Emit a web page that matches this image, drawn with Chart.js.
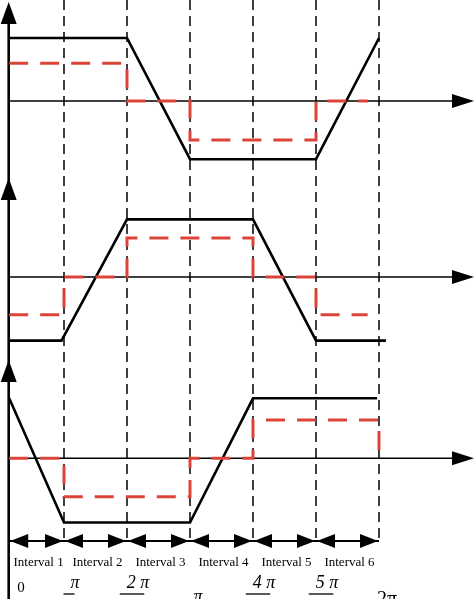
<!DOCTYPE html>
<html>
<head>
<meta charset="utf-8">
<script src="https://cdn.jsdelivr.net/npm/chart.js@4/dist/chart.umd.min.js"></script>
<style>
  html, body { margin: 0; padding: 0; background: #fff; }
  #myChart { display: block; }
</style>
</head>
<body>
<canvas id="myChart" width="474" height="599"></canvas>
<script>
// x in units of pi/3 (dashed lines at 1..6), start = where the vertical axis sits
const xStart = 0.13;
const boundaries = [1, 2, 3, 4, 5, 6];
const intervalNames = ["Interval 1", "Interval 2", "Interval 3", "Interval 4", "Interval 5", "Interval 6"];
const angleTop = ["0", "π", "2 π", "π", "4 π", "5 π", "2π"];

// phase a
const emfAx = [xStart, 2, 3, 5, 6];
const emfAy = [1.05, 1.05, -0.97, -0.97, 1.05];
const curAx = [xStart, 2, 3, 5, 5.82];
const curAy = [0.63, 0, -0.65, 0, 0];

// phase b
const emfBx = [xStart, 0.96, 2, 4, 5, 6.11];
const emfBy = [-1.06, -1.06, 0.96, 0.96, -1.06, -1.06];
const curBx = [xStart, 1, 2, 4, 5, 5.82];
const curBy = [-0.63, 0, 0.65, 0, -0.63, -0.63];

// phase c
const emfCx = [xStart, 1, 3, 4, 5.97];
const emfCy = [1.0, -1.07, -1.07, 1.0, 1.0];
const curCx = [xStart, 1, 3, 4, 6];
const curCy = [0, -0.64, 0, 0.64, 0];

const red = "#dc4439";

function pts(xs, ys) {
    let out = [];
    for (let i = 0; i < xs.length; i++) {
        out.push({ x: xs[i], y: ys[i] });
    }
    return out;
}

function emf(xs, ys, axis) {
    return {
        data: pts(xs, ys), yAxisID: axis, borderColor: "#000", borderWidth: 2.6,
        pointRadius: 0, fill: false, tension: 0, order: 2
    };
}

function cur(xs, ys, axis) {
    return {
        data: pts(xs, ys), yAxisID: axis, borderColor: red, borderWidth: 3,
        borderDash: [19, 12], stepped: "before", pointRadius: 0, fill: false, order: 1
    };
}

function arrow(ctx, x, y, dir, len, half) {
    ctx.beginPath();
    if (dir === "up") {
        ctx.moveTo(x, y); ctx.lineTo(x - half, y + len); ctx.lineTo(x + half, y + len);
    } else if (dir === "right") {
        ctx.moveTo(x, y); ctx.lineTo(x - len, y - half); ctx.lineTo(x - len, y + half);
    } else {
        ctx.moveTo(x, y); ctx.lineTo(x + len, y - half); ctx.lineTo(x + len, y + half);
    }
    ctx.closePath();
    ctx.fill();
}

const axesPlugin = {
    id: "axesPlugin",
    beforeDatasetsDraw(chart) {
        const ctx = chart.ctx;
        const xs = chart.scales.x;
        const x0 = xs.getPixelForValue(xStart);
        const rowY = 541;
        ctx.save();
        ctx.fillStyle = "#000";
        ctx.strokeStyle = "#000";

        // dashed boundaries
        ctx.lineWidth = 1.5;
        ctx.setLineDash([10, 6]);
        boundaries.forEach(b => {
            const px = xs.getPixelForValue(b);
            ctx.beginPath();
            ctx.moveTo(px, 0);
            ctx.lineTo(px, rowY);
            ctx.stroke();
        });
        ctx.setLineDash([]);

        // horizontal axes
        ["ya", "yb", "yc"].forEach(id => {
            const sc = chart.scales[id];
            const py = sc.getPixelForValue(0);
            ctx.lineWidth = 1.6;
            ctx.beginPath();
            ctx.moveTo(x0, py);
            ctx.lineTo(455, py);
            ctx.stroke();
            arrow(ctx, 474, py, "right", 22, 7);
            arrow(ctx, x0 - 0.5, Math.max(sc.top, 2), "up", 22, 8);
        });

        // vertical axis
        ctx.lineWidth = 2.6;
        ctx.beginPath();
        ctx.moveTo(x0 - 0.5, 10);
        ctx.lineTo(x0 - 0.5, 599);
        ctx.stroke();

        // interval arrows
        const marks = [xStart].concat(boundaries);
        ctx.lineWidth = 1.8;
        ctx.beginPath();
        ctx.moveTo(x0, rowY);
        ctx.lineTo(xs.getPixelForValue(6), rowY);
        ctx.stroke();
        for (let i = 0; i < marks.length - 1; i++) {
            const l = xs.getPixelForValue(marks[i]);
            const r = xs.getPixelForValue(marks[i + 1]);
            arrow(ctx, l + 1, rowY, "left", 18, 7);
            arrow(ctx, r - 1, rowY, "right", 18, 7);
        }
        ctx.restore();
    },
    afterDraw(chart) {
        const ctx = chart.ctx;
        const xs = chart.scales.x;
        const marks = [xStart].concat(boundaries);
        ctx.save();
        ctx.fillStyle = "#000";
        ctx.strokeStyle = "#000";

        ctx.font = '13px "Liberation Serif"';
        ctx.textAlign = "center";
        ctx.textBaseline = "middle";
        for (let i = 0; i < intervalNames.length; i++) {
            const c = (xs.getPixelForValue(marks[i]) + xs.getPixelForValue(marks[i + 1])) / 2;
            ctx.fillText(intervalNames[i], c + 2, 563);
        }

        // angle labels
        ctx.font = '15px "Liberation Serif"';
        ctx.textBaseline = "middle";
        ctx.fillText(angleTop[0], 21, 588);

        ctx.font = 'italic 18px "Liberation Serif"';
        ctx.textBaseline = "alphabetic";
        ctx.lineWidth = 1.3;
        const fracs = [1, 2, 4, 5];
        fracs.forEach(k => {
            const px = xs.getPixelForValue(boundaries[k - 1]);
            const txt = angleTop[k];
            const w = ctx.measureText(txt).width;
            const cx = px + 11;
            ctx.fillText(txt, cx, 588);
            ctx.beginPath();
            ctx.moveTo(cx - w / 2 - 7, 594);
            ctx.lineTo(cx + w / 2 - 5, 594);
            ctx.stroke();
            ctx.fillText("3", cx - 4, 612);
        });
        ctx.fillText(angleTop[3], xs.getPixelForValue(3) + 8, 602);
        ctx.font = '20px "Liberation Serif"';
        ctx.fillText(angleTop[6], xs.getPixelForValue(6) + 8, 605);
        ctx.restore();
    }
};

function hiddenY(min, max, weight) {
    return {
        type: "linear", position: "left", stack: "phases", stackWeight: weight,
        min: min, max: max, offset: false,
        ticks: { display: false }, grid: { display: false, drawTicks: false },
        border: { display: false }, title: { display: false }
    };
}

new Chart("myChart", {
    type: "line",
    data: {
        datasets: [
            emf(emfAx, emfAy, "ya"), cur(curAx, curAy, "ya"),
            emf(emfBx, emfBy, "yb"), cur(curBx, curBy, "yb"),
            emf(emfCx, emfCy, "yc"), cur(curCx, curCy, "yc")
        ]
    },
    options: {
        responsive: false,
        animation: false,
        layout: { padding: 0, autoPadding: false },
        plugins: { legend: { display: false }, tooltip: { enabled: false }, title: { display: false } },
        scales: {
            x: { type: "linear", display: false, min: -1 / 63, max: 473 / 63 },
            // stacked left scales are laid out bottom-up, so the lowest phase comes first
            yc: hiddenY(-140.7 / 60, 98.3 / 60, 239),
            yb: hiddenY(-83 / 60, 99 / 60, 182),
            ya: hiddenY(-77 / 60, 101 / 60, 178)
        }
    },
    plugins: [axesPlugin]
});
</script>
</body>
</html>
